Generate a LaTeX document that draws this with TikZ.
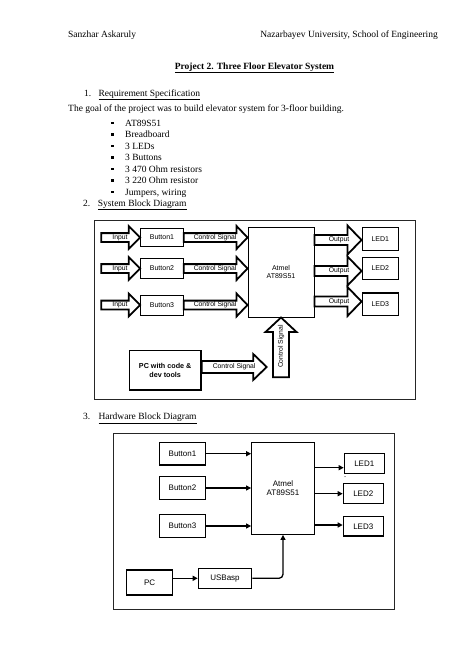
\documentclass[tikz,border=0pt]{standalone}
\usepackage{fontspec}
\setmainfont{Liberation Serif}
\newfontfamily\diagfont{Liberation Sans}
\usetikzlibrary{calc,arrows.meta}

\tikzset{
  doc/.style={font=\fontsize{9.5}{11}\selectfont, anchor=base west, inner sep=0pt},
  blk/.style={draw, line width=1pt, inner sep=0pt, font=\diagfont\fontsize{7}{8.4}\selectfont, align=center},
  ledbox/.style={blk, line width=1.6pt},
  barrow/.style={draw, line width=1.8pt, fill=white, line join=miter},
  alabel/.style={font=\diagfont\fontsize{6.8}{8}\selectfont, inner sep=0pt},
  hwbox/.style={draw, line width=1.2pt, inner sep=0pt, font=\diagfont\fontsize{8}{9.6}\selectfont, align=center},
  hwarrow/.style={line width=1.3pt, -{Triangle[length=5pt,width=5pt]}},
  frame/.style={draw=black!85, line width=0.9pt},
  bulletsq/.style={fill=black},
}

% horizontal block arrow: #1 start, #2 end, #3 shaft half, #4 head half, #5 head length, #6 label, #7 label shift
\newcommand\blockarrowH[7]{%
  \draw[barrow] let \p1=(#1), \p2=(#2) in
    (\x1,{\y1+#3pt}) -- ({\x2-#5pt},{\y1+#3pt}) -- ({\x2-#5pt},{\y1+#4pt}) -- (\x2,\y1)
    -- ({\x2-#5pt},{\y1-#4pt}) -- ({\x2-#5pt},{\y1-#3pt}) -- (\x1,{\y1-#3pt}) -- cycle
    node[alabel] at ({(\x1+\x2-#5pt)/2+#7pt},\y1) {#6};}
% vertical (upward) block arrow
\newcommand\blockarrowV[7]{%
  \draw[barrow] let \p1=(#1), \p2=(#2) in
    ({\x2-#3pt},\y1) -- ({\x2-#3pt},{\y2-#5pt}) -- ({\x2-#4pt},{\y2-#5pt}) -- (\x2,\y2)
    -- ({\x2+#4pt},{\y2-#5pt}) -- ({\x2+#3pt},{\y2-#5pt}) -- ({\x2+#3pt},\y1) -- cycle
    node[alabel, rotate=90] at (\x2,{(\y1+\y2-#5pt)/2+#7pt}) {#6};}

\begin{document}
\begin{tikzpicture}[x=1pt,y=-1pt]
\useasboundingbox (0,0) rectangle (474,670);
\fill[white] (0,0) rectangle (474,670);

% ---------- header and text ----------
\node[doc] (author) at (68,37) {Sanzhar Askaruly};
\node[doc, anchor=base east] (univ) at (438,37) {Nazarbayev University, School of Engineering};
\node[doc, anchor=base] (title) at (254.5,69) {\underline{\textbf{Project 2. Three Floor Elevator System}}};
\node[doc] (n1) at (84,96) {1.};
\node[doc] (s1) at (98.3,96) {\underline{Requirement Specification}};
\node[doc] (goal) at (68,111) {The goal of the project was to build elevator system for 3-floor building.};
\foreach \t [count=\i] in {AT89S51, Breadboard, 3 LEDs, 3 Buttons, 3 470 Ohm resistors, 3 220 Ohm resistor, {Jumpers, wiring}} {
  \pgfmathsetmacro\yy{126+(\i-1)*11.5}
  \node[doc] (item\i) at (125,\yy) {\t};
  \fill[bulletsq] (111.3,\yy-4.2) rectangle (113.9,\yy-1.6);
}
\node[doc] (n2) at (83,206) {2.};
\node[doc] (s2) at (97.7,206) {\underline{System Block Diagram}};
\node[doc] (n3) at (83,419.5) {3.};
\node[doc] (s3) at (98.3,419.5) {\underline{Hardware Block Diagram}};

% ---------- System block diagram ----------
\draw[frame] (94,220) rectangle (415,399);
\node[blk, minimum width=66pt, minimum height=90pt] (atmel) at (281,272) {Atmel\\AT89S51};
\node[blk, minimum width=42.6pt, minimum height=18.5pt] (b1) at (162,237.5) {Button1};
\node[blk, minimum width=42.6pt, minimum height=20pt] (b2) at (162,268.5) {Button2};
\node[blk, minimum width=42.6pt, minimum height=20pt] (b3) at (162,305) {Button3};
\node[ledbox, minimum width=36pt, minimum height=23pt] (led1) at (380.3,239) {LED1};
\node[ledbox, minimum width=36pt, minimum height=22pt] (led2) at (380.3,268.3) {LED2};
\node[ledbox, minimum width=36pt, minimum height=22.6pt] (led3) at (380.3,304) {LED3};
\node[blk, line width=1.3pt, minimum width=71.7pt, minimum height=39.3pt, font=\diagfont\bfseries\fontsize{7.2}{8.6}\selectfont] (pc) at (165.2,370.3) {PC with code \&\\dev tools};

\foreach \b in {b1,b2,b3} {
  \coordinate (\b in) at ($(\b.west)+(-39,0)$);
  \blockarrowH{\b in}{\b.west}{4.4}{11.5}{11.5}{Input}{5}
  \blockarrowH{\b.east}{atmel.west |- \b.east}{4.4}{11.5}{11}{Control Signal}{5}
}
\coordinate (o1) at ($(atmel.north east)+(0,13.5)$);
\coordinate (o2) at ($(atmel.north east)+(0,44.5)$);
\coordinate (o3) at ($(atmel.north east)+(0,75)$);
\blockarrowH{o1}{led1.west |- o1}{5}{14.5}{14}{Output}{8}
\blockarrowH{o2}{led2.west |- o2}{5}{14.5}{14}{Output}{8}
\blockarrowH{o3}{led3.west |- o3}{5}{14.5}{14}{Output}{8}

\coordinate (pcend) at (266.7,367);
\blockarrowH{pc.east |- pcend}{pcend}{6}{13}{13.5}{Control Signal}{6.7}
\coordinate (vstart) at ($(atmel.south)+(0,59.7)$);
\blockarrowV{vstart}{atmel.south}{8}{15.5}{14.5}{Control Signal}{8}

% ---------- Hardware block diagram ----------
\draw[frame] (113.3,433.3) rectangle (394.3,609.3);
\node[hwbox, minimum width=62.6pt, minimum height=92pt] (atmel2) at (283,488.3) {Atmel\\AT89S51};
\node[hwbox, minimum width=46.4pt, minimum height=22.7pt] (hb1) at (182.5,453.7) {Button1};
\node[hwbox, minimum width=46.4pt, minimum height=22.6pt] (hb2) at (182.5,488) {Button2};
\node[hwbox, minimum width=46.4pt, minimum height=23.4pt] (hb3) at (182.5,526) {Button3};
\node[hwbox, minimum width=46pt, minimum height=25pt] (hpc) at (149.7,582.5) {PC};
\node[hwbox, minimum width=53.4pt, minimum height=20pt] (usb) at (225,578.3) {USBasp};
\node[hwbox, minimum width=40pt, minimum height=20pt] (hl1) at (364.3,463.3) {LED1};
\node[hwbox, minimum width=40pt, minimum height=20pt] (hl2) at (363.3,493.3) {LED2};
\node[hwbox, minimum width=40pt, minimum height=19.3pt] (hl3) at (363.3,526.3) {LED3};

\foreach \b in {hb1,hb2,hb3} {
  \draw[hwarrow] (\b.east) -- (atmel2.west |- \b.east);
}
\coordinate (h1) at (314.3,467.7);
\coordinate (h2) at (314.3,493.7);
\coordinate (h3) at (314.3,525);
\draw[hwarrow] (h1) -- (hl1.west |- h1);
\draw[hwarrow] (h2) -- (hl2.west |- h2);
\draw[hwarrow] (h3) -- (hl3.west |- h3);
\draw[hwarrow] (hpc.east |- usb.west) -- (usb.west);
\draw[hwarrow, rounded corners=4pt] (usb.east) -- (atmel2.south |- usb.east) -- (atmel2.south);
\fill (345,476.7) circle (0.5pt);
\end{tikzpicture}
\end{document}
